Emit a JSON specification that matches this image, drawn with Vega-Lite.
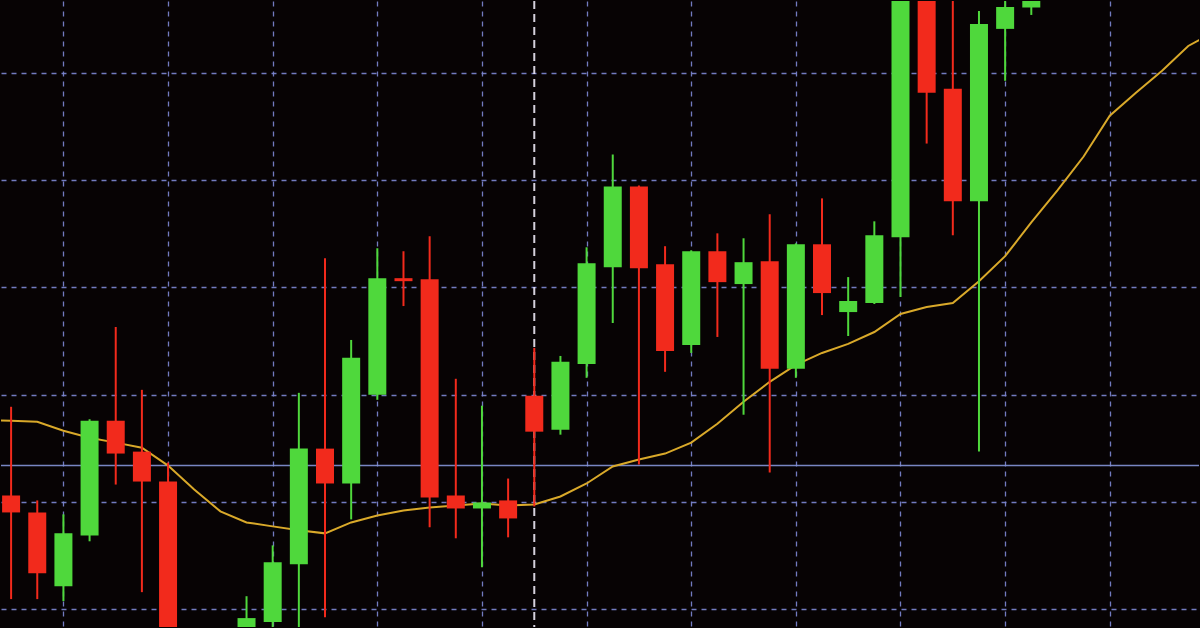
{
  "$schema": "https://vega.github.io/schema/vega-lite/v6.json",
  "width": 1200,
  "height": 628,
  "autosize": {"type": "fit", "contains": "padding"},
  "padding": 0,
  "background": "#070304",
  "config": {"view": {"stroke": null, "fill": "#070304"}},
  "datasets": {
    "candles": [
      {"i": 0, "open": 110.59, "close": 109.01, "high": 118.86, "low": 100.93},
      {"i": 1, "open": 109.01, "close": 103.34, "high": 110.13, "low": 100.93},
      {"i": 2, "open": 102.13, "close": 107.06, "high": 108.83, "low": 100.74},
      {"i": 3, "open": 106.87, "close": 117.56, "high": 117.7, "low": 106.32},
      {"i": 4, "open": 117.56, "close": 114.5, "high": 126.3, "low": 111.61},
      {"i": 5, "open": 114.68, "close": 111.89, "high": 120.44, "low": 101.58},
      {"i": 6, "open": 111.89, "close": 96.28, "high": 113.66, "low": 91.63},
      {"i": 7, "open": 96.28, "close": 92.0, "high": 97.0, "low": 90.0},
      {"i": 8, "open": 92.0, "close": 95.0, "high": 96.5, "low": 90.5},
      {"i": 9, "open": 95.0, "close": 99.16, "high": 101.2, "low": 93.0},
      {"i": 10, "open": 98.79, "close": 104.37, "high": 105.94, "low": 96.0},
      {"i": 11, "open": 104.18, "close": 114.96, "high": 120.16, "low": 97.0},
      {"i": 12, "open": 114.96, "close": 111.71, "high": 132.71, "low": 99.25},
      {"i": 13, "open": 111.71, "close": 123.42, "high": 125.09, "low": 108.36},
      {"i": 14, "open": 119.98, "close": 130.85, "high": 133.64, "low": 119.51},
      {"i": 15, "open": 130.85, "close": 130.57, "high": 133.36, "low": 128.25},
      {"i": 16, "open": 130.76, "close": 110.41, "high": 134.76, "low": 107.62},
      {"i": 17, "open": 110.59, "close": 109.38, "high": 121.47, "low": 106.6},
      {"i": 18, "open": 109.38, "close": 109.94, "high": 118.96, "low": 103.9},
      {"i": 19, "open": 110.13, "close": 108.45, "high": 112.17, "low": 106.69},
      {"i": 20, "open": 119.89, "close": 116.54, "high": 124.35, "low": 109.57},
      {"i": 21, "open": 116.73, "close": 123.05, "high": 123.6, "low": 116.26},
      {"i": 22, "open": 122.86, "close": 132.25, "high": 133.73, "low": 121.56},
      {"i": 23, "open": 131.88, "close": 139.4, "high": 142.38, "low": 126.67},
      {"i": 24, "open": 139.4, "close": 131.78, "high": 139.49, "low": 113.47},
      {"i": 25, "open": 132.15, "close": 124.07, "high": 133.83, "low": 122.12},
      {"i": 26, "open": 124.63, "close": 133.36, "high": 133.45, "low": 123.88},
      {"i": 27, "open": 133.36, "close": 130.48, "high": 135.03, "low": 125.37},
      {"i": 28, "open": 130.3, "close": 132.34, "high": 134.57, "low": 118.12},
      {"i": 29, "open": 132.43, "close": 122.4, "high": 136.8, "low": 112.73},
      {"i": 30, "open": 122.4, "close": 134.01, "high": 134.1, "low": 121.56},
      {"i": 31, "open": 134.01, "close": 129.46, "high": 138.29, "low": 127.41},
      {"i": 32, "open": 127.69, "close": 128.72, "high": 130.95, "low": 125.46},
      {"i": 33, "open": 128.53, "close": 134.85, "high": 136.15, "low": 128.44},
      {"i": 34, "open": 134.66, "close": 158.5, "high": 160.0, "low": 129.09},
      {"i": 35, "open": 160.5, "close": 148.14, "high": 163.0, "low": 143.4},
      {"i": 36, "open": 148.51, "close": 138.01, "high": 158.0, "low": 134.85},
      {"i": 37, "open": 138.01, "close": 154.55, "high": 155.76, "low": 114.68},
      {"i": 38, "open": 154.09, "close": 156.13, "high": 158.0, "low": 149.25},
      {"i": 39, "open": 156.09, "close": 158.5, "high": 160.0, "low": 155.39}
    ],
    "ma": [
      {"i": -0.5, "ma": 117.6},
      {"i": 0, "ma": 117.56}, {"i": 1, "ma": 117.47}, {"i": 2, "ma": 116.63},
      {"i": 3, "ma": 115.98}, {"i": 4, "ma": 115.52}, {"i": 5, "ma": 115.05},
      {"i": 6, "ma": 113.38}, {"i": 7, "ma": 111.15}, {"i": 8, "ma": 109.11},
      {"i": 9, "ma": 108.08}, {"i": 10, "ma": 107.71}, {"i": 11, "ma": 107.34},
      {"i": 12, "ma": 107.06}, {"i": 13, "ma": 108.08}, {"i": 14, "ma": 108.73},
      {"i": 15, "ma": 109.2}, {"i": 16, "ma": 109.48}, {"i": 17, "ma": 109.66},
      {"i": 18, "ma": 109.85}, {"i": 19, "ma": 109.66}, {"i": 20, "ma": 109.76},
      {"i": 21, "ma": 110.5}, {"i": 22, "ma": 111.71}, {"i": 23, "ma": 113.29},
      {"i": 24, "ma": 113.94}, {"i": 25, "ma": 114.5}, {"i": 26, "ma": 115.52},
      {"i": 27, "ma": 117.28}, {"i": 28, "ma": 119.33}, {"i": 29, "ma": 121.19},
      {"i": 30, "ma": 122.77}, {"i": 31, "ma": 123.88}, {"i": 32, "ma": 124.72},
      {"i": 33, "ma": 125.83}, {"i": 34, "ma": 127.51}, {"i": 35, "ma": 128.16},
      {"i": 36, "ma": 128.53}, {"i": 37, "ma": 130.57}, {"i": 38, "ma": 132.9},
      {"i": 39, "ma": 136.06}, {"i": 40, "ma": 139.03}, {"i": 41, "ma": 142.19},
      {"i": 42, "ma": 146.0}, {"i": 43, "ma": 148.14}, {"i": 44, "ma": 150.18},
      {"i": 45, "ma": 152.5}, {"i": 45.6, "ma": 153.3}
    ]
  },
  "layer": [
    {
      "data": {"name": "candles"},
      "mark": {"type": "rule", "clip": true, "opacity": 0},
      "encoding": {
        "x": {
          "field": "i", "type": "quantitative",
          "scale": {"domain": [-0.195, 45.22], "nice": false, "zero": false},
          "axis": {"grid": true, "values": [2, 6, 10, 14, 18, 22, 26, 30, 34, 38, 42], "gridColor": "#7e88d4", "gridDash": [5, 5], "gridWidth": 1.3, "gridOpacity": 0.9, "labels": false, "ticks": false, "domain": false, "title": null}
        },
        "y": {
          "field": "low", "type": "quantitative",
          "scale": {"domain": [98.33, 156.69], "nice": false, "zero": false},
          "axis": {"grid": true, "values": [100, 110, 120, 130, 140, 150], "gridColor": "#7e88d4", "gridDash": [5, 5], "gridWidth": 1.3, "gridOpacity": 0.9, "labels": false, "ticks": false, "domain": false, "title": null}
        }
      }
    },
    {
      "data": {"values": [{"level": 113.38}]},
      "mark": {"type": "rule", "color": "#8595d8", "strokeWidth": 1.6, "opacity": 0.9},
      "encoding": {"y": {"field": "level", "type": "quantitative"}}
    },
    {
      "data": {"values": [{"at": 20}]},
      "mark": {"type": "rule", "color": "#ece8f4", "strokeWidth": 2, "strokeDash": [8, 5], "opacity": 0.9},
      "encoding": {"x": {"field": "at", "type": "quantitative"}}
    },
    {
      "data": {"name": "ma"},
      "mark": {"type": "line", "color": "#d9a92a", "strokeWidth": 2, "clip": true},
      "encoding": {
        "x": {"field": "i", "type": "quantitative"},
        "y": {"field": "ma", "type": "quantitative"}
      }
    },
    {
      "data": {"name": "candles"},
      "mark": {"type": "rule", "strokeWidth": 2, "clip": true},
      "encoding": {
        "x": {"field": "i", "type": "quantitative"},
        "y": {"field": "low", "type": "quantitative"},
        "y2": {"field": "high"},
        "color": {"condition": {"test": "datum.close >= datum.open", "value": "#4fd83c"}, "value": "#f22a1c"}
      }
    },
    {
      "data": {"name": "candles"},
      "mark": {"type": "bar", "size": 18, "clip": true},
      "encoding": {
        "x": {"field": "i", "type": "quantitative"},
        "y": {"field": "open", "type": "quantitative"},
        "y2": {"field": "close"},
        "color": {"condition": {"test": "datum.close >= datum.open", "value": "#4fd83c"}, "value": "#f22a1c"}
      }
    }
  ]
}
